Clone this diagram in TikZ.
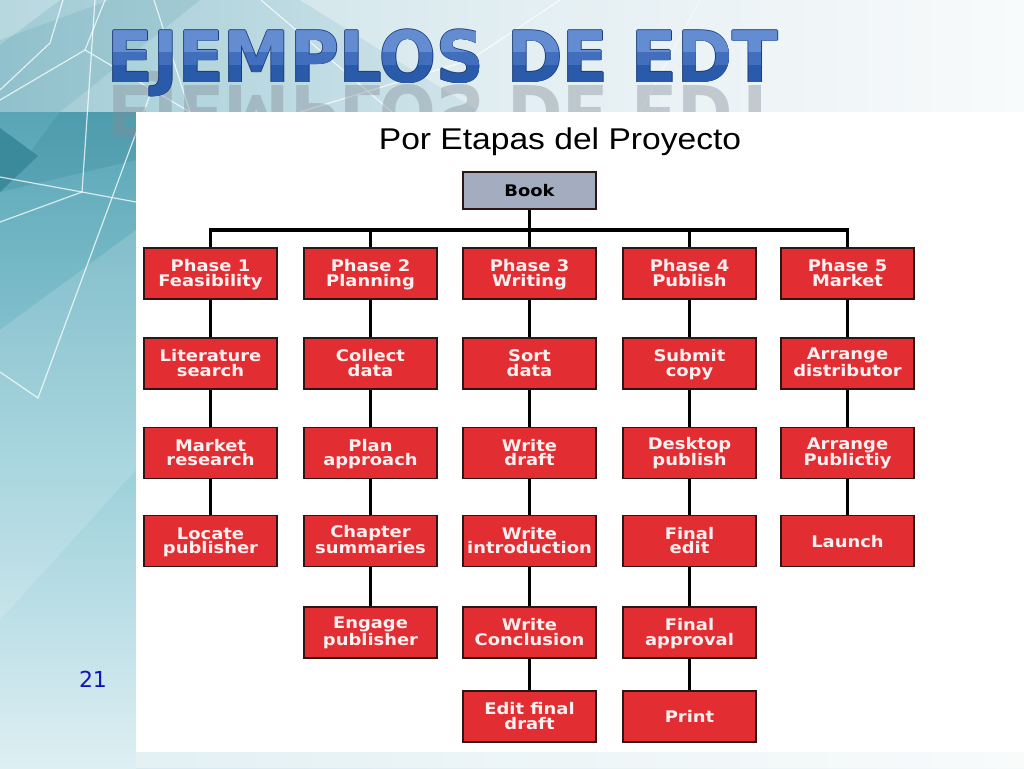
\documentclass[tikz,border=0pt]{standalone}
\usepackage{fontspec}
\setmainfont{DejaVu Sans}
\newfontfamily\boxfont{DejaVu Sans}[FakeStretch=1.12]
\newfontfamily\titlefont{DejaVu Sans}[FakeStretch=0.94]
\newfontfamily\arialfont{Liberation Sans}[FakeStretch=1.12]
\definecolor{boxred}{RGB}{226,46,50}
\definecolor{boxedge}{RGB}{45,22,22}
\definecolor{bookfill}{RGB}{164,173,192}
\definecolor{boxtext}{RGB}{252,240,240}
\definecolor{numblue}{RGB}{20,20,180}
\definecolor{titlelight}{RGB}{100,140,208}
\definecolor{titlemid}{RGB}{66,110,190}
\definecolor{titledark}{RGB}{42,90,170}
\definecolor{titleedge}{RGB}{30,62,122}
\definecolor{reflgray}{RGB}{130,140,150}
\definecolor{bgL}{RGB}{208,231,237}
\definecolor{bgR}{RGB}{246,249,250}
\definecolor{topL}{RGB}{160,203,213}
\definecolor{topM}{RGB}{212,230,236}
\definecolor{tealA}{RGB}{88,165,182}
\definecolor{tealM}{RGB}{150,205,216}
\definecolor{tealL}{RGB}{222,239,243}
\definecolor{tealD}{RGB}{58,138,156}
\tikzset{
  wbs/.style={draw=boxedge, line width=1.5pt, minimum width=133pt, minimum height=51pt,
    inner sep=0pt, align=center, text depth=3.5pt, text height=29pt,
    font=\boxfont\bfseries\fontsize{16}{14.5}\selectfont},
  redbox/.style={wbs, fill=boxred, text=boxtext},
  oneline/.style={text depth=0pt, text height=12pt},
  bookbox/.style={wbs, fill=bookfill, text=black, minimum height=37pt, text depth=0pt, text height=12pt},
  conn/.style={line width=3.5pt, black, line join=miter},
  wl/.style={white, line width=1.2pt, opacity=0.75},
  titletext/.style={anchor=base, inner sep=0pt, font=\titlefont\bfseries\fontsize{71}{80}\selectfont}
}
\begin{document}
\begin{tikzpicture}[x=1pt, y=-1pt]
\useasboundingbox (0,0) rectangle (1024,768);
% background
\shade[left color=bgL, right color=bgR] (0,0) rectangle (1024,768);
\shade[left color=topL, right color=bgR, middle color=topM] (0,0) rectangle (1024,112);
\fill[white, opacity=0.25] (0,0) -- (60,0) -- (0,45) -- cycle;
\fill[white, opacity=0.35] (300,0) -- (1024,0) -- (1024,112) -- (480,112) -- cycle;
\fill[tealD, opacity=0.15] (0,40) -- (110,0) -- (200,0) -- (60,112) -- (0,112) -- cycle;
\shade[top color=tealA, bottom color=tealL, middle color=tealM] (0,112) rectangle (136,768);
\fill[white, opacity=0.15] (0,330) -- (136,230) -- (136,470) -- (0,620) -- cycle;
\fill[tealD] (0,128) -- (38,156) -- (0,192) -- cycle;
\fill[tealD, opacity=0.3] (0,192) -- (60,112) -- (136,112) -- (136,160) -- cycle;
\fill[white, opacity=0.35] (136,752) rectangle (1024,768);
% white lines
\draw[wl] (63,0) -- (50,43) -- (0,90);
\draw[wl] (95,0) -- (82,192);
\draw[wl] (0,177) -- (82,192) -- (136,202);
\draw[wl] (82,192) -- (0,222);
\draw[wl] (150,95) -- (38,398) -- (0,372);
\draw[wl] (0,100) -- (85,50) -- (105,0);
\draw[wl] (85,50) -- (190,112);
\draw[wl] (154,0) -- (190,112);
\draw[wl] (261,0) -- (392,112);
\draw[wl] (300,112) -- (470,60) -- (560,0);
\draw[wl, opacity=0.5] (700,0) -- (640,112);
% title reflection
\begin{scope}[shift={(443,85)}, yscale=-1]
  \node[titletext, transform shape, text=reflgray, text opacity=0.4] (refl) at (0,0) {EJEMPLOS DE EDT};
\end{scope}
% title outline
\foreach \dx/\dy [count=\i] in {-0.9/0,0.9/0,0/-0.9,0/0.9}
  \node[titletext, text=titleedge] (tedge\i) at (443+\dx,82+\dy) {EJEMPLOS DE EDT};
% title fill
\node[titletext, text=titledark] (title) at (443,82) {EJEMPLOS DE EDT};
\begin{scope}
  \clip (90,0) rectangle (800,64);
  \node[titletext, text=titlemid] (title2) at (443,82) {EJEMPLOS DE EDT};
\end{scope}
\begin{scope}
  \clip (90,0) rectangle (800,52);
  \node[titletext, text=titlelight] (title3) at (443,82) {EJEMPLOS DE EDT};
\end{scope}
% white panel
\fill[white] (136,112) rectangle (1024,752);
% subtitle and page number
\node[anchor=base, inner sep=0pt, font=\arialfont\fontsize{30}{36}\selectfont] (sub) at (560,149) {Por Etapas del Proyecto};
\node[font=\fontsize{22}{26}\selectfont, text=numblue, inner sep=0pt] (pg) at (93,679) {21};
% boxes
\node[bookbox] (book) at (529.5,190.5) {Book};
\node[redbox] (a1) at (210.5,273.5) {Phase 1\\Feasibility};
\node[redbox] (a2) at (210.5,363.5) {Literature\\search};
\node[redbox] (a3) at (210.5,453) {Market\\research};
\node[redbox] (a4) at (210.5,541) {Locate\\publisher};
\node[redbox] (b1) at (370.5,273.5) {Phase 2\\Planning};
\node[redbox] (b2) at (370.5,363.5) {Collect\\data};
\node[redbox] (b3) at (370.5,453) {Plan\\approach};
\node[redbox] (b4) at (370.5,541) {Chapter\\summaries};
\node[redbox] (b5) at (370.5,632.5) {Engage\\publisher};
\node[redbox] (c1) at (529.5,273.5) {Phase 3\\Writing};
\node[redbox] (c2) at (529.5,363.5) {Sort\\data};
\node[redbox] (c3) at (529.5,453) {Write\\draft};
\node[redbox] (c4) at (529.5,541) {Write\\introduction};
\node[redbox] (c5) at (529.5,632.5) {Write\\Conclusion};
\node[redbox] (c6) at (529.5,716.5) {Edit final\\draft};
\node[redbox] (d1) at (689.5,273.5) {Phase 4\\Publish};
\node[redbox] (d2) at (689.5,363.5) {Submit\\copy};
\node[redbox] (d3) at (689.5,453) {Desktop\\publish};
\node[redbox] (d4) at (689.5,541) {Final\\edit};
\node[redbox] (d5) at (689.5,632.5) {Final\\approval};
\node[redbox, oneline] (d6) at (689.5,716.5) {Print};
\node[redbox] (e1) at (847.5,273.5) {Phase 5\\Market};
\node[redbox] (e2) at (847.5,363.5) {Arrange\\distributor};
\node[redbox] (e3) at (847.5,453) {Arrange\\Publictiy};
\node[redbox, oneline] (e4) at (847.5,541) {Launch};
% connectors
\coordinate (bj) at (529.5,230);
\draw[conn] (book) -- (bj);
\draw[conn] (a1) |- (bj) -| (e1);
\draw[conn] (b1) -- (b1 |- bj);
\draw[conn] (c1) -- (bj);
\draw[conn] (d1) -- (d1 |- bj);
\foreach \u/\v in {a1/a2,a2/a3,a3/a4,b1/b2,b2/b3,b3/b4,b4/b5,c1/c2,c2/c3,c3/c4,c4/c5,c5/c6,d1/d2,d2/d3,d3/d4,d4/d5,d5/d6,e1/e2,e2/e3,e3/e4}
  \draw[conn] (\u) -- (\v);
\end{tikzpicture}
\end{document}
